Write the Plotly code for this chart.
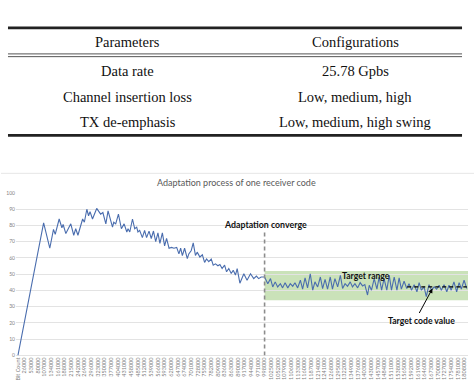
import plotly.graph_objects as go

# ---------------- data ----------------
table_header = ["Parameters", "Configurations"]
table_params = ["Data rate", "Channel insertion loss", "TX de-emphasis"]
table_configs = ["25.78 Gpbs", "Low, medium, high", "Low, medium, high swing"]

chart_title = "Adaptation process of one receiver code"

# sample index (category position) and receiver code value
sample_idx = [0, 104, 129, 144, 151, 167, 178, 183, 194, 214, 226, 234, 243, 262, 269, 279, 286, 292,
              302, 319, 335, 344, 356, 365, 383, 388, 396, 407, 419, 430, 441, 446, 453, 464, 473, 481,
              486, 493, 504, 513, 521, 531, 540, 549, 558, 567, 575, 585, 594, 602, 612, 622, 632, 643,
              652, 659, 666, 675, 686, 692, 702, 710, 719, 726, 737, 747, 756, 764, 773, 783, 791, 800,
              810, 818, 827, 837, 845, 854, 864, 872, 881, 888, 899, 915, 928, 942, 955, 966, 975, 985,
              999, 1012, 1023, 1032, 1042, 1052, 1063, 1072, 1082, 1093, 1103, 1113, 1122, 1133, 1144,
              1153, 1163, 1173, 1184, 1194, 1203, 1214, 1225, 1234, 1244, 1254, 1265, 1274, 1284, 1295,
              1306, 1315, 1325, 1335, 1346, 1355, 1365, 1376, 1386, 1396, 1405, 1416, 1423, 1432, 1443,
              1454, 1463, 1473, 1483, 1494, 1504, 1513, 1524, 1535, 1544, 1553, 1564, 1575, 1584, 1594,
              1605, 1616, 1625, 1634, 1645, 1654, 1665, 1675, 1686, 1696, 1706, 1715, 1726, 1737, 1746,
              1755, 1766, 1777, 1787, 1796, 1807, 1818]
code_value = [0, 81.6, 66, 77.6, 74.5, 84, 78.6, 80.6, 75, 81, 74, 78, 74, 84, 82, 90, 86, 88.5,
              84, 90.5, 87, 88, 81, 89, 79, 82, 81, 87, 78, 81, 76, 78, 76, 84, 78, 79,
              76, 77, 72.5, 77, 72.5, 76.5, 72, 76.6, 70, 75.5, 69, 75.5, 67.5, 72, 66, 66.5, 66, 66.5,
              62.5, 66, 61.5, 66, 59.6, 62.5, 64.6, 69.3, 61.6, 63.6, 60.6, 62, 57.3, 59.4, 57.8, 59.4, 55.6, 56.4,
              55.2, 56, 53.5, 55.6, 51.5, 53.5, 50.5, 52.5, 49.5, 53.5, 44.5, 50.3, 46.3, 50.3, 47.3, 48.9, 47.3, 48.3,
              48.3, 44.2, 47.3, 42.2, 45.3, 42.2, 44.2, 41.6, 44.8, 41.6, 44.2, 42.6, 44.8, 41.6, 46.3,
              40.8, 47.7, 41.6, 50.3, 40.2, 45.3, 42.2, 48.3, 41.2, 46.9, 40.8, 48.3, 40.8, 47.3, 42.2,
              49.3, 41.2, 44.2, 42.6, 45.3, 42.2, 44.2, 41.6, 44.8, 42.8, 43.6, 37.2, 43.2, 40.2, 47.3,
              40.8, 48.3, 40.2, 47.3, 40.2, 49.3, 40.2, 48.3, 40.2, 47.7, 40.8, 45.7, 41.2, 44.2, 40.2,
              43.6, 39.2, 44.8, 40.2, 42.2, 36.2, 43.6, 40.2, 42.2, 40.8, 43.2, 40.2, 43.6, 39.2, 43.2,
              40.2, 45.3, 39.2, 44.8, 40.8, 46.3, 41.2]

tick_labels = ["Bit Count", "26000", "53000", "80000", "107000", "134000", "161000", "188000", "215000",
               "242000", "269000", "296000", "323000", "350000", "377000", "404000", "431000", "458000",
               "485000", "512000", "539000", "566000", "593000", "620000", "647000", "674000", "701000",
               "728000", "755000", "782000", "809000", "836000", "863000", "890000", "917000", "944000",
               "971000", "998000", "1025000", "1052000", "1079000", "1106000", "1133000", "1160000",
               "1187000", "1214000", "1241000", "1268000", "1295000", "1322000", "1349000", "1376000",
               "1403000", "1430000", "1457000", "1484000", "1511000", "1538000", "1565000", "1592000",
               "1619000", "1646000", "1673000", "1700000", "1727000", "1754000", "1781000", "1808000"]
tick_positions = [0 if t == "Bit Count" else (int(t) + 1000) // 1000 for t in tick_labels]

converge_idx = 999
converge_top = 76
target_range = [34, 52]
target_x = [1577, 1818]
target_value = 42.2
arrow_tip = (1679, 41.2)

# ---------------- helpers (pixel -> paper) ----------------
W, H = 474, 387
def px(x):
    return x / W
def py(y):
    return 1 - y / H

fig = go.Figure()

fig.add_trace(go.Scatter(x=sample_idx, y=code_value, mode="lines",
                         line=dict(color="#4A6DAE", width=1.1), hoverinfo="skip",
                         showlegend=False))
fig.add_trace(go.Scatter(x=target_x, y=[target_value] * len(target_x), mode="lines",
                         line=dict(color="black", width=1.4, dash="4px,3px"),
                         hoverinfo="skip", showlegend=False))

shapes = []
# target range band
shapes.append(dict(type="rect", xref="x", yref="y", x0=converge_idx, x1=1823,
                   y0=target_range[0], y1=target_range[1],
                   fillcolor="rgba(169,208,142,0.62)", line=dict(width=0), layer="below"))
# convergence dashed line
shapes.append(dict(type="line", xref="x", yref="y", x0=converge_idx, x1=converge_idx,
                   y0=0, y1=converge_top, line=dict(color="#8c8c8c", width=1.6, dash="4px,3px")))
# chart top border
shapes.append(dict(type="line", xref="paper", yref="paper", x0=0, x1=1, y0=py(173), y1=py(173),
                   line=dict(color="#e6e6e6", width=1)))
# table rules
shapes.append(dict(type="line", xref="paper", yref="paper", x0=px(7), x1=px(462), y0=py(25.3), y1=py(25.3),
                   line=dict(color="#222", width=2.6)))
shapes.append(dict(type="line", xref="paper", yref="paper", x0=px(7), x1=px(462), y0=py(51.7), y1=py(51.7),
                   line=dict(color="#555", width=1)))
shapes.append(dict(type="line", xref="paper", yref="paper", x0=px(7), x1=px(462), y0=py(54.5), y1=py(54.5),
                   line=dict(color="#555", width=1)))
shapes.append(dict(type="line", xref="paper", yref="paper", x0=px(7), x1=px(462), y0=py(134.5), y1=py(134.5),
                   line=dict(color="#222", width=2.8)))

ann = []
serif = dict(family="Liberation Serif", size=14.5, color="#111")
col1, col2 = 127, 355
ann.append(dict(x=px(col1), y=py(40), text=table_header[0], font=serif))
ann.append(dict(x=px(col2), y=py(40), text=table_header[1], font=serif))
for i, (p, c) in enumerate(zip(table_params, table_configs)):
    yy = [69.5, 95, 120.5][i]
    ann.append(dict(x=px(col1), y=py(yy), text=p, font=serif))
    ann.append(dict(x=px(col2), y=py(yy), text=c, font=serif))

ann.append(dict(x=px(236), y=py(182), text=chart_title,
                font=dict(family="Lato", size=9, color="#595959")))
ann.append(dict(x=px(265), y=py(225), text="<b>Adaptation converge</b>",
                font=dict(family="Lato", size=8.8, color="#111")))
ann.append(dict(x=px(366), y=py(277), text="<b>Target range</b>",
                font=dict(family="Lato", size=8.6, color="#111")))
ann.append(dict(x=px(421), y=py(323), text="<b>Target code value</b>",
                font=dict(family="Lato", size=8.6, color="#111")))
for a in ann:
    a.update(xref="paper", yref="paper", showarrow=False, xanchor="center", yanchor="middle")

ann.append(dict(x=arrow_tip[0], y=arrow_tip[1], xref="x", yref="y", text="", showarrow=True,
                ax=-14, ay=26, arrowhead=2, arrowsize=0.9, arrowwidth=1, arrowcolor="black"))

fig.update_layout(
    width=W, height=H, margin=dict(l=0, r=0, t=0, b=0),
    paper_bgcolor="white", plot_bgcolor="white",
    shapes=shapes, annotations=ann,
    xaxis=dict(domain=[px(15), px(468)], range=[-8, 1823], tickmode="array",
               tickvals=tick_positions, ticktext=tick_labels, tickangle=-90,
               tickfont=dict(family="Lato", size=5.5, color="#7f7f7f"),
               showgrid=False, zeroline=False, showline=False, ticks=""),
    yaxis=dict(domain=[py(358), py(193)], range=[0, 100], dtick=10,
               tickfont=dict(family="Lato", size=5, color="#7f7f7f"),
               showgrid=True, gridcolor="#e3e3e3", gridwidth=1,
               zeroline=True, zerolinecolor="#e3e3e3", zerolinewidth=1,
               showline=False, ticks=""),
)

fig.write_html("out.html", config={"displayModeBar": False},
               post_script="document.body.style.margin='0';document.body.style.overflow='hidden';")
